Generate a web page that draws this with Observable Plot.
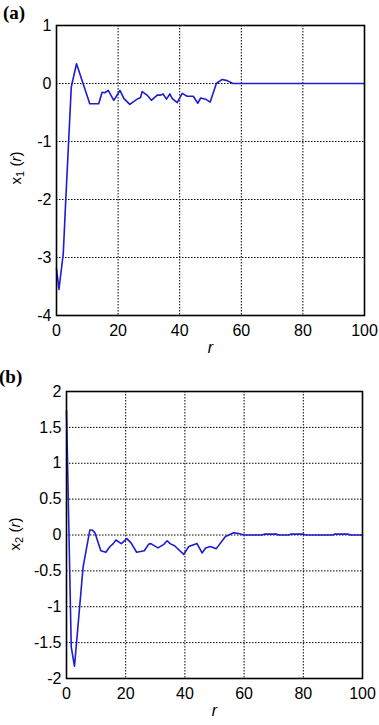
<!DOCTYPE html>
<html>
<head>
<meta charset="utf-8">
<script src="https://cdn.jsdelivr.net/npm/d3@7"></script>
<script src="https://cdn.jsdelivr.net/npm/@observablehq/plot@0.6"></script>
<style>
  html, body { margin: 0; padding: 0; background: #fff; }
  #page { position: relative; width: 379px; height: 725px; overflow: hidden; font-family: "Liberation Sans", Arial, sans-serif; }
  .panel { position: absolute; left: 0; }
  .letter { position: absolute; font-family: "Liberation Serif", "Times New Roman", serif; font-weight: bold; font-size: 19px; }
  .ylab { position: absolute; font-size: 15px; transform: translate(-50%, -50%) rotate(-90deg); white-space: nowrap; }
  .ylab i { font-style: italic; }
  .ylab sub { font-size: 11px; vertical-align: -3px; }
</style>
</head>
<body>
<div id="page">
  <div id="pa" class="panel" style="top:0px"></div>
  <div id="pb" class="panel" style="top:366px"></div>
  <div class="letter" style="left:3px; top:2px">(a)</div>
  <div class="letter" style="left:-1px; top:366px">(b)</div>
  <div class="ylab" style="left:16px; top:168px">x<sub>1</sub> (<i>r</i>)</div>
  <div class="ylab" style="left:15px; top:534px">x<sub>2</sub> (<i>r</i>)</div>
</div>
<script>
// Panel (a): x1(r)
const rA  = [0, 0.8, 2.2, 2.9, 4.8, 6.5, 10.8, 13.7, 14.8, 15.7, 16.8, 18.6, 20.6, 21.9, 23.8, 26.2, 27.3, 27.8, 29.4, 30.8, 32.7, 33.8, 34.6, 35.7, 36.8, 37.6, 39.2, 40.8, 42.4, 44.4, 45.9, 46.8, 48.4, 49.9, 51.9, 53.8, 55.4, 57.3, 60, 100];
const x1A = [-3.19, -3.55, -2.93, -2.13, -0.06, 0.34, -0.35, -0.35, -0.15, -0.16, -0.12, -0.29, -0.12, -0.26, -0.36, -0.27, -0.24, -0.14, -0.2, -0.29, -0.2, -0.2, -0.18, -0.27, -0.18, -0.26, -0.33, -0.17, -0.22, -0.22, -0.34, -0.25, -0.27, -0.32, 0.0, 0.07, 0.05, 0.0, 0.0, 0.0];
const yTicksA = [-4, -3, -2, -1, 0, 1];

// Panel (b): x2(r)
const rB  = [0, 1.6, 2.7, 5.6, 6.6, 7.9, 8.7, 9.6, 11.6, 13.3, 14.7, 15.8, 16.7, 18.5, 20.4, 21.8, 23.7, 26.3, 27.7, 28.5, 30.9, 32.9, 34.0, 35.0, 36.5, 39.6, 41.3, 44.1, 45.8, 47.0, 48.6, 50.6, 53.7, 56.5, 58.2, 59.9, 66, 66.8, 71, 71.7, 75, 75.8, 80, 80.8, 89.8, 90.6, 95.2, 96, 100];
const x2B = [1.73, -1.56, -1.83, -0.45, -0.22, 0.07, 0.07, 0.03, -0.22, -0.24, -0.16, -0.12, -0.07, -0.12, -0.05, -0.11, -0.24, -0.22, -0.13, -0.12, -0.18, -0.13, -0.08, -0.12, -0.15, -0.27, -0.16, -0.12, -0.25, -0.18, -0.16, -0.19, -0.02, 0.03, 0.02, 0.0, 0.0, 0.012, 0.012, 0.0, 0.0, 0.012, 0.012, 0.0, 0.0, 0.012, 0.012, 0.0, 0.0];
const yTicksB = [-2, -1.5, -1, -0.5, 0, 0.5, 1, 1.5, 2];

const xTicks = [0, 20, 40, 60, 80, 100];
const lineColor = "#1c1cd0";
const fmt = d => String(d);

function panel(r, v, yDomain, yTicks, opts) {
  const data = r.map((d, i) => ({r: d, v: v[i]}));
  return Plot.plot({
    width: 379,
    height: opts.height,
    marginTop: opts.top,
    marginBottom: opts.bottom,
    marginLeft: opts.left,
    marginRight: opts.right,
    style: {fontFamily: "'Liberation Sans', Arial, sans-serif", fontSize: "16px", color: "#000", background: "#fff", overflow: "visible"},
    x: {domain: [0, 100], label: null},
    y: {domain: yDomain, label: null},
    marks: [
      Plot.gridX(xTicks.slice(1, -1), {stroke: "#000", strokeOpacity: 1, strokeWidth: 1, strokeDasharray: "1.5,1.5"}),
      Plot.gridY(yTicks.slice(1, -1), {stroke: "#000", strokeOpacity: 1, strokeWidth: 1, strokeDasharray: "1.5,1.5"}),
      Plot.line(data, {x: "r", y: "v", stroke: lineColor, strokeWidth: 1.6}),
      Plot.frame({stroke: "#000", strokeWidth: 1.6}),
      Plot.axisX({ticks: xTicks, tickFormat: fmt, tickSize: 0, tickPadding: 9, label: null, fontSize: 16}),
      Plot.axisY({ticks: yTicks, tickFormat: fmt, tickSize: 0, tickPadding: 5, label: null, fontSize: 16}),
      Plot.text(["r"], {frameAnchor: "bottom", dy: opts.rdy, text: d => d, fontStyle: "italic", fontSize: 16})
    ]
  });
}

document.getElementById("pa").appendChild(
  panel(rA, x1A, [-4, 1], yTicksA, {height: 362, top: 25, bottom: 47, left: 56, right: 15, rdy: 37})
);
document.getElementById("pb").appendChild(
  panel(rB, x2B, [-2, 2], yTicksB, {height: 359, top: 25, bottom: 47, left: 66, right: 17, rdy: 37})
);
</script>
</body>
</html>
